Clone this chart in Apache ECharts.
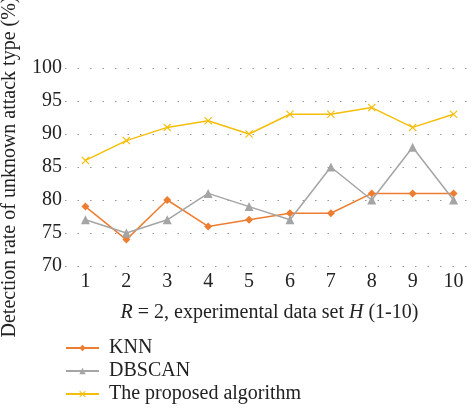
<!DOCTYPE html>
<html>
<head>
<meta charset="utf-8">
<script src="https://cdn.jsdelivr.net/npm/echarts@6/dist/echarts.min.js"></script>
<style>
  html, body { margin: 0; padding: 0; background: #fff; }
  #main { width: 474px; height: 409px; }
</style>
</head>
<body>
<div id="main"></div>
<script>
var categories = ['1', '2', '3', '4', '5', '6', '7', '8', '9', '10'];
var knn = [79, 74, 80, 76, 77, 78, 78, 81, 81, 81];
var dbscan = [77, 75, 77, 81, 79, 77, 85, 80, 88, 80];
var proposed = [86, 89, 91, 92, 90, 93, 93, 94, 91, 93];
var seriesNames = ['KNN', 'DBSCAN', 'The proposed algorithm'];

var FONT = '"Liberation Serif", "DejaVu Serif", serif';
var crossPath = 'path://M0,1L1,0L5,4L9,0L10,1L6,5L10,9L9,10L5,6L1,10L0,9L4,5Z';

var myChart = echarts.init(document.getElementById('main'));
var option = {
    animation: false,
    textStyle: { fontFamily: FONT },
    grid: { left: 65, right: 0, top: 68, bottom: 143, outerBoundsMode: 'none' },
    legend: {
        orient: 'vertical',
        left: 65,
        top: 338,
        padding: 0,
        itemWidth: 33,
        itemHeight: 8,
        itemGap: 3,
        data: seriesNames,
        formatter: function (name) { return ' ' + name; },
        textStyle: { fontFamily: FONT, fontSize: 20, color: '#222' }
    },
    xAxis: {
        type: 'category',
        data: categories,
        boundaryGap: true,
        axisLine: { show: false },
        axisTick: { show: false },
        axisLabel: { fontFamily: FONT, fontSize: 20, color: '#222', margin: 6 },
        name: '{i|R} = 2, experimental data set {i|H} (1-10)',
        nameLocation: 'middle',
        nameGap: 37,
        nameTextStyle: {
            fontFamily: FONT, fontSize: 20, color: '#222',
            rich: { i: { fontFamily: FONT, fontSize: 20, fontStyle: 'italic', color: '#222' } }
        }
    },
    yAxis: {
        type: 'value',
        min: 70,
        max: 100,
        interval: 5,
        axisLine: { show: false },
        axisTick: { show: false },
        axisLabel: { fontFamily: FONT, fontSize: 20, color: '#222', margin: 3 },
        splitLine: { lineStyle: { color: '#999', type: [1.5, 11], width: 1.2 } },
        name: 'Detection rate of unknown attack type (%)',
        nameLocation: 'middle',
        nameGap: 45,
        nameTextStyle: { fontFamily: FONT, fontSize: 20, color: '#222' }
    },
    series: [
        {
            name: seriesNames[0], type: 'line', data: knn,
            symbol: 'diamond', symbolSize: 8,
            color: '#ED7D31', lineStyle: { width: 1.5 }
        },
        {
            name: seriesNames[1], type: 'line', data: dbscan,
            symbol: 'triangle', symbolSize: 9,
            color: '#A5A5A5', lineStyle: { width: 1.5 }
        },
        {
            name: seriesNames[2], type: 'line', data: proposed,
            symbol: crossPath, symbolSize: 8,
            color: '#F5BE0B', lineStyle: { width: 1.5 }
        }
    ]
};
myChart.setOption(option);
</script>
</body>
</html>
